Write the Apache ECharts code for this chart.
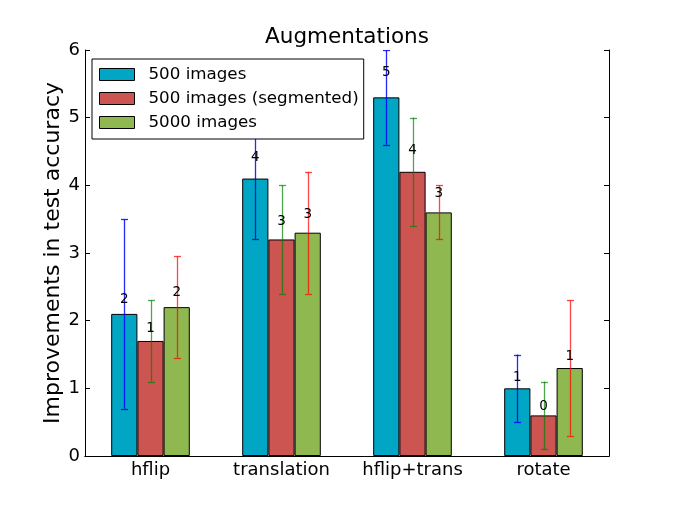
<!DOCTYPE html>
<html>
<head>
<meta charset="utf-8">
<script src="https://cdn.jsdelivr.net/npm/echarts@6/dist/echarts.min.js"></script>
<style>html,body{margin:0;padding:0;background:#fff;}#c{width:676px;height:507px;}</style>
</head>
<body>
<div id="c"></div>
<script>
const categories = ['hflip', 'translation', 'hflip+trans', 'rotate'];
const seriesNames = ['500 images', '500 images (segmented)', '5000 images'];
const vals500 = [2.1, 4.1, 5.3, 1.0];
const err500 = [1.4, 0.9, 0.7, 0.5];
const valsSeg = [1.7, 3.2, 4.2, 0.6];
const errSeg = [0.6, 0.8, 0.8, 0.5];
const vals5000 = [2.2, 3.3, 3.6, 1.3];
const err5000 = [0.75, 0.9, 0.4, 1.0];
const yTicks = [0, 1, 2, 3, 4, 5, 6];
const chartTitle = 'Augmentations';

const barColors = ['#00a6c3', '#cc5552', '#8fb950'];
const errColors = ['rgba(0,0,255,0.85)', 'rgba(0,128,0,0.7)', 'rgba(255,0,0,0.72)'];
const FONT = 'DejaVu Sans';

const allVals = [vals500, valsSeg, vals5000];
const allErrs = [err500, errSeg, err5000];

function makeErr(sIdx) {
  return function (params, api) {
    const i = api.value(0), v = api.value(1), e = api.value(2);
    const band = api.size([1, 0])[0];
    const off = (sIdx - 1) * band * 0.2;
    const top = api.coord([i, v + e]);
    const bot = api.coord([i, v - e]);
    const x = Math.round(top[0] + off) + 0.5;
    const cap = 3.5;
    const st = { stroke: errColors[sIdx], lineWidth: 1.3 };
    return {
      type: 'group',
      children: [
        { type: 'line', shape: { x1: x, y1: top[1], x2: x, y2: bot[1] }, style: st },
        { type: 'line', shape: { x1: x - cap, y1: Math.round(top[1]) + 0.5, x2: x + cap, y2: Math.round(top[1]) + 0.5 }, style: st },
        { type: 'line', shape: { x1: x - cap, y1: Math.round(bot[1]) + 0.5, x2: x + cap, y2: Math.round(bot[1]) + 0.5 }, style: st }
      ]
    };
  };
}
function makeLabel(sIdx) {
  return function (params, api) {
    const i = api.value(0), v = api.value(1);
    const band = api.size([1, 0])[0];
    const off = (sIdx - 1) * band * 0.2;
    const p = api.coord([i, 1.05 * v]);
    return {
      type: 'text',
      x: p[0] + off, y: p[1],
      style: {
        text: String(Math.floor(v)), fill: '#000',
        font: '13.5px "' + FONT + '"', align: 'center', verticalAlign: 'bottom'
      }
    };
  };
}

const series = [];
for (let s = 0; s < 3; s++) {
  series.push({
    name: seriesNames[s], type: 'bar', data: allVals[s],
    barWidth: '20%', barGap: '0%',
    itemStyle: { color: barColors[s], borderColor: '#000', borderWidth: 1 },
    z: 2
  });
}
for (let s = 0; s < 3; s++) {
  series.push({
    type: 'custom', renderItem: makeErr(s), clip: true, z: 3,
    data: categories.map((c, i) => [i, allVals[s][i], allErrs[s][i]]),
    encode: { x: 0, y: 1 }, silent: true
  });
}
for (let s = 0; s < 3; s++) {
  series.push({
    type: 'custom', renderItem: makeLabel(s), clip: false, z: 4,
    data: categories.map((c, i) => [i, allVals[s][i]]),
    encode: { x: 0, y: 1 }, silent: true
  });
}

const chart = echarts.init(document.getElementById('c'), null, { renderer: 'canvas' });
chart.setOption({
  animation: false,
  backgroundColor: '#fff',
  textStyle: { fontFamily: FONT },
  graphic: [{
    type: 'text', x: 347, y: 48, z: 50,
    style: { text: chartTitle, font: '21.5px "' + FONT + '"', fill: '#000', align: 'center', verticalAlign: 'bottom' }
  }],
  grid: { left: 85, right: 67, top: 50, bottom: 51, containLabel: false },
  legend: {
    data: seriesNames, orient: 'vertical', left: 92, top: 59,
    padding: [7, 5, 8, 7], itemGap: 7, itemWidth: 35, itemHeight: 12,
    icon: 'rect',
    itemStyle: { borderColor: '#000', borderWidth: 1 },
    textStyle: { fontFamily: FONT, fontSize: 16.7, color: '#000', lineHeight: 16, padding: [0, 0, 0, 9] },
    borderColor: '#000', borderWidth: 1, backgroundColor: '#fff', borderRadius: 0,
    z: 20, selectedMode: false
  },
  xAxis: [
    {
      type: 'category', data: categories, position: 'bottom', z: 10,
      axisLine: { lineStyle: { color: '#000', width: 1 } },
      axisTick: { inside: true, alignWithLabel: true, length: 5, lineStyle: { color: '#000' } },
      axisLabel: { color: '#000', fontSize: 18, fontFamily: FONT, margin: 5 },
      splitLine: { show: false }
    },
    {
      type: 'category', data: categories, position: 'top', z: 10,
      axisLine: { lineStyle: { color: '#000', width: 1 } },
      axisTick: { inside: true, alignWithLabel: true, length: 5, lineStyle: { color: '#000' } },
      axisLabel: { show: false }, splitLine: { show: false }
    }
  ],
  yAxis: [
    {
      type: 'value', min: 0, max: 6, interval: 1, position: 'left', z: 10,
      name: 'Improvements in test accuracy', nameLocation: 'middle', nameGap: 21,
      nameMoveOverlap: false,
      nameTextStyle: { fontFamily: FONT, fontSize: 22, color: '#000' },
      axisLine: { show: true, lineStyle: { color: '#000', width: 1 } },
      axisTick: { show: true, inside: true, length: 5, lineStyle: { color: '#000' } },
      axisLabel: { color: '#000', fontSize: 18, fontFamily: FONT, margin: 5,
        formatter: v => yTicks.includes(v) ? String(v) : '' },
      splitLine: { show: false }
    },
    {
      type: 'value', min: 0, max: 6, interval: 1, position: 'right', z: 10,
      axisLine: { show: true, lineStyle: { color: '#000', width: 1 } },
      axisTick: { show: true, inside: true, length: 5, lineStyle: { color: '#000' } },
      axisLabel: { show: false }, splitLine: { show: false }
    }
  ],
  series: series
});
</script>
</body>
</html>
